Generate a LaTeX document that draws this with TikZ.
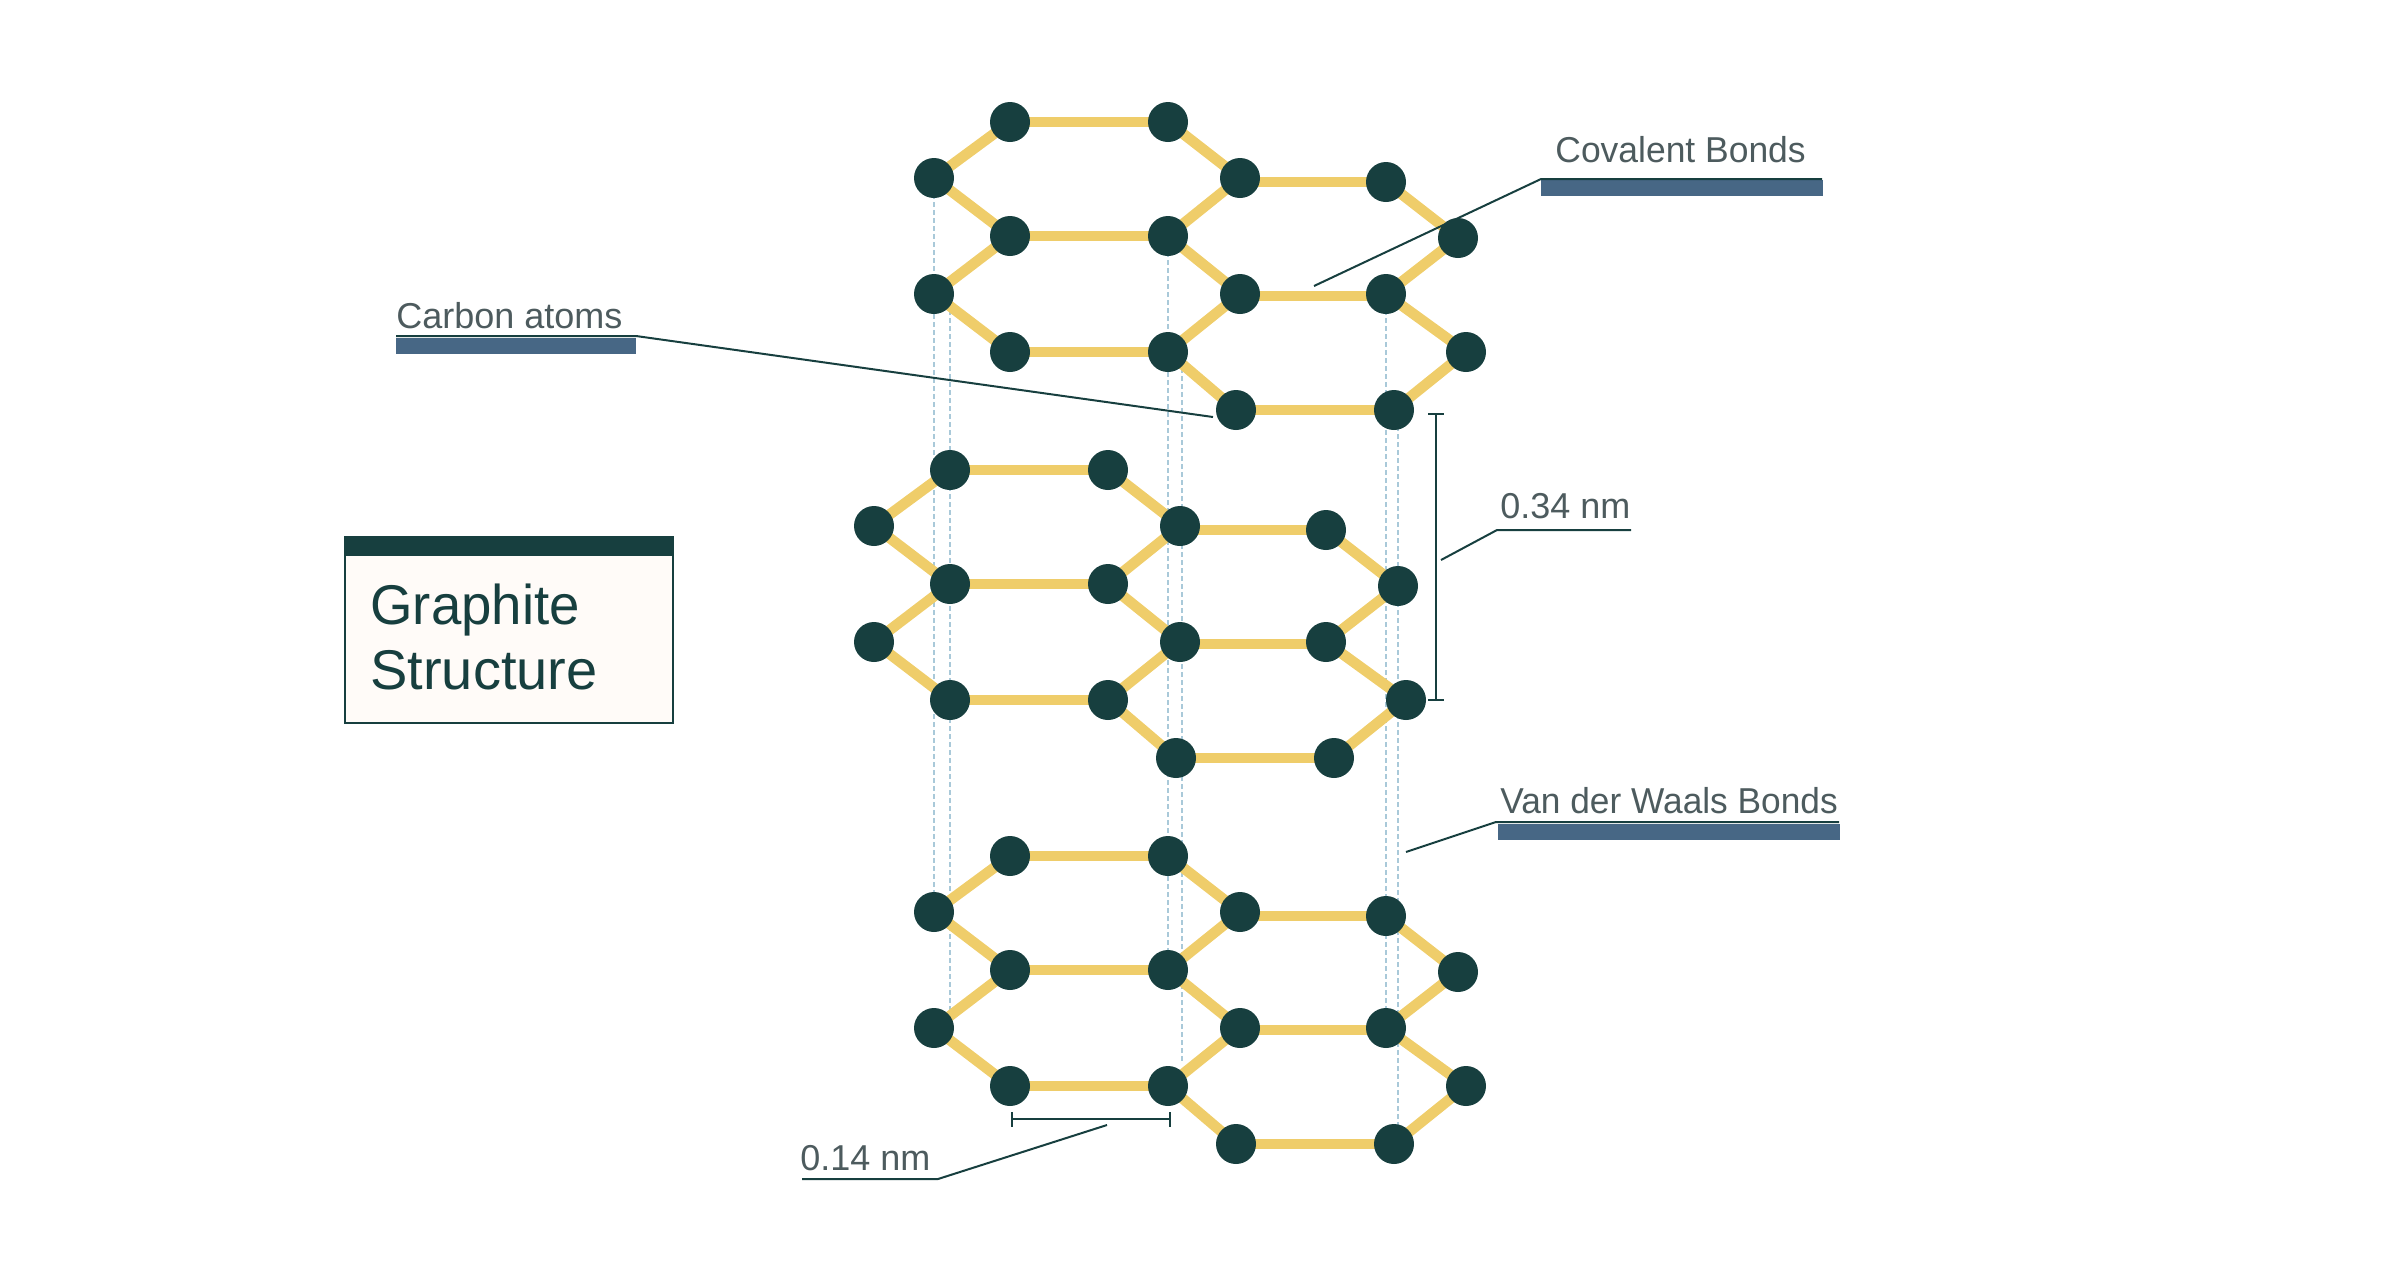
\documentclass[tikz,border=0pt]{standalone}
\usepackage{fontspec}
\setmainfont{Liberation Sans}
\usetikzlibrary{backgrounds}
\definecolor{atomc}{HTML}{173F3F}
\definecolor{bondc}{HTML}{EFCD6A}
\definecolor{dashc}{HTML}{A9C9D9}
\definecolor{barc}{HTML}{476785}
\definecolor{labelc}{HTML}{4D5B5E}
\definecolor{paperc}{HTML}{FFFBF8}
\pgfdeclarelayer{dashlayer}
\pgfdeclarelayer{bondlayer}
\pgfsetlayers{dashlayer,bondlayer,main}
\tikzset{
  atom/.style={circle,fill=atomc,draw=none,inner sep=0pt,minimum size=20pt},
  bond/.style={draw=bondc,line width=5.3pt},
  vdw/.style={draw=dashc,line width=1pt,dash pattern=on 2.5pt off 1.5pt},
  leader/.style={draw=atomc,line width=1pt},
  bar/.style={fill=barc,draw=none},
  lab/.style={anchor=base west,inner sep=0pt,text=labelc,font=\fontsize{18}{20}\selectfont},
  ttl/.style={anchor=base west,inner sep=0pt,text=atomc,font=\fontsize{28}{32}\selectfont},
  tick/.style={draw=atomc,line width=1pt}
}
\newcommand{\sheet}[3]{%
  \begin{scope}[shift={(#2,#3)}]
    \foreach \n/\x/\y in {a/934/178,b/1010/122,c/1168/122,d/1240/178,e/1386/182,f/1458/238,g/1386/294,h/1240/294,i/1168/236,j/1010/236,k/934/294,l/1010/352,m/1168/352,n/1236/410,o/1394/410,p/1466/352}
      \node[atom] (#1\n) at (\x,\y) {};
  \end{scope}
  \begin{pgfonlayer}{bondlayer}
    \foreach \s/\t in {a/b,b/c,c/d,e/f,f/g,h/i,i/j,j/a,j/k,k/l,l/m,m/h,m/n,n/o,o/p,p/g,i/d}
      \draw[bond] (#1\s.center) -- (#1\t.center);
    \draw[bond] (#1d.center |- #1e.center) -- (#1e.center);
    \draw[bond] ([yshift=-1pt]#1h.center) -- ([yshift=-1pt]#1g.center);
  \end{pgfonlayer}
}
\begin{document}
\begin{tikzpicture}[x=0.5pt,y=-0.5pt]
\useasboundingbox (0,0) rectangle (2400,1260);
\sheet{A}{0}{0}
\sheet{B}{-60}{348}
\sheet{C}{0}{734}
\begin{pgfonlayer}{dashlayer}
  \draw[vdw] (Aa.center) -- (Ca.center);
  \draw[vdw] (Ak.center -| Bb.center) -- (Ck.center -| Bb.center);
  \draw[vdw] (Ai.center) -- (Ci.center);
  \draw[vdw] ([xshift=1pt]Am.center -| Bd.center) -- ([xshift=1pt,yshift=11pt]Cl.center -| Bd.center);
  \draw[vdw] (Ag.center) -- (Cg.center);
  \draw[vdw] (Ao.center -| Bf.center) -- (Co.center -| Bf.center);
\end{pgfonlayer}
% title box
\node[draw=atomc,line width=1pt,fill=paperc,minimum width=164pt,minimum height=93pt,inner sep=0pt] (box) at (509,630) {};
\path[fill=atomc] (344,536) rectangle (674,556);
\node[ttl] (t1) at (370,624) {\scalebox{.975}[1]{Graphite}};
\node[ttl] (t2) at (370,689) {Structure};
% carbon atoms
\node[lab] (lc) at (396,328) {Carbon atoms};
\path[bar] (396,338) rectangle (636,354);
\coordinate (c0) at (396,336); \coordinate (c1) at (636,336); \coordinate (c2) at (1213,417);
\draw[leader] (c0) -- (c1) -- (c2);
% covalent bonds
\node[lab] (lb) at (1555,162) {\scalebox{.985}[1]{Covalent Bonds}};
\path[bar] (1541,180) rectangle (1823,196);
\coordinate (b0) at (1822,179); \coordinate (b1) at (1541,179); \coordinate (b2) at (1314,286);
\draw[leader] (b0) -- (b1) -- (b2);
% 0.34 nm
\node[lab] (l34) at (1500,518) {0.34 nm};
\coordinate (d0) at (1631,530); \coordinate (d1) at (1497,530); \coordinate (d2) at (1441,560);
\draw[leader] (d0) -- (d1) -- (d2);
\coordinate (u1) at (1436,414); \coordinate (u2) at (1436,700);
\draw[tick] (u1) -- (u2);
\draw[tick] ([xshift=-4pt]u1) -- ([xshift=4pt]u1);
\draw[tick] ([xshift=-4pt]u2) -- ([xshift=4pt]u2);
% van der waals
\node[lab] (lv) at (1500,813) {\scalebox{.98}[1]{Van der Waals Bonds}};
\path[bar] (1498,824) rectangle (1840,840);
\coordinate (v0) at (1839,822); \coordinate (v1) at (1496,822); \coordinate (v2) at (1406,852);
\draw[leader] (v0) -- (v1) -- (v2);
% 0.14 nm
\node[lab] (l14) at (800,1170) {0.14 nm};
\coordinate (n0) at (802,1179); \coordinate (n1) at (938,1179); \coordinate (n2) at (1107,1125);
\draw[leader] (n0) -- (n1) -- (n2);
\coordinate (w1) at (1012,1119); \coordinate (w2) at (1170,1119);
\draw[tick] (w1) -- (w2);
\draw[tick] ([yshift=3.5pt]w1) -- ([yshift=-4pt]w1);
\draw[tick] ([yshift=3.5pt]w2) -- ([yshift=-4pt]w2);
\end{tikzpicture}
\end{document}
